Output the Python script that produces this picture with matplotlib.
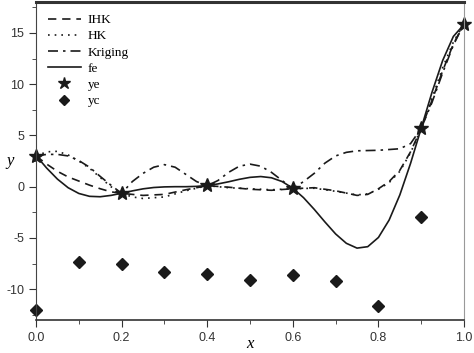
import matplotlib
matplotlib.use('Agg')
import matplotlib.pyplot as plt
from matplotlib.ticker import MultipleLocator, FormatStrFormatter

# exact function fe
x_fe = [0.0, 0.025, 0.05, 0.075, 0.1, 0.125, 0.15, 0.175, 0.2, 0.225,
        0.25, 0.275, 0.3, 0.325, 0.35, 0.375, 0.4, 0.425, 0.45, 0.475,
        0.5, 0.525, 0.55, 0.575, 0.6, 0.625, 0.65, 0.675, 0.7, 0.725,
        0.75, 0.775, 0.8, 0.825, 0.85, 0.875, 0.9, 0.925, 0.95, 0.975, 1.0]
y_fe = [3.03, 1.81, 0.74, -0.10, -0.66, -0.94, -0.98, -0.85, -0.64, -0.41,
        -0.21, -0.08, -0.02, 0.0, 0.0, 0.03, 0.12, 0.27, 0.48, 0.72,
        0.91, 0.99, 0.87, 0.50, -0.15, -1.07, -2.21, -3.44, -4.61, -5.52,
        -5.99, -5.85, -4.95, -3.25, -0.80, 2.27, 5.71, 9.19, 12.30, 14.65, 15.83]

# IHK
x_ihk = [0.0, 0.025, 0.05, 0.075, 0.1, 0.125, 0.15, 0.175, 0.2, 0.25, 0.3, 0.35,
         0.4, 0.45, 0.5, 0.55, 0.6, 0.65, 0.7, 0.75, 0.775, 0.8, 0.825, 0.85,
         0.875, 0.9, 0.925, 0.95, 0.975, 1.0]
y_ihk = [3.0, 2.2, 1.5, 0.95, 0.55, 0.15, -0.2, -0.5, -0.65, -0.85, -0.75, -0.3,
         0.1, -0.05, -0.25, -0.35, -0.2, -0.1, -0.4, -0.85, -0.75, -0.2, 0.5, 1.6,
         3.4, 5.7, 8.4, 11.3, 13.9, 15.9]

# HK
x_hk = [0.0, 0.025, 0.05, 0.075, 0.1, 0.125, 0.15, 0.175, 0.2, 0.225, 0.25, 0.3,
        0.35, 0.4, 0.45, 0.5, 0.55, 0.6, 0.65, 0.7, 0.75, 0.775, 0.8, 0.825,
        0.85, 0.875, 0.9, 0.925, 0.95, 0.975, 1.0]
y_hk = [3.0, 3.4, 3.45, 3.1, 2.5, 1.8, 0.9, 0.0, -0.65, -1.0, -1.15, -1.0,
        -0.4, 0.1, -0.1, -0.2, -0.3, -0.2, -0.15, -0.45, -0.8, -0.7, -0.25, 0.4,
        1.5, 3.3, 5.7, 8.6, 11.6, 14.1, 15.9]

# Kriging
x_kr = [0.0, 0.025, 0.05, 0.075, 0.1, 0.125, 0.15, 0.175, 0.2, 0.225, 0.25,
        0.275, 0.3, 0.325, 0.35, 0.375, 0.4, 0.425, 0.45, 0.475, 0.5, 0.525,
        0.55, 0.575, 0.6, 0.625, 0.65, 0.675, 0.7, 0.725, 0.75, 0.8, 0.85,
        0.875, 0.9, 0.925, 0.95, 0.975, 1.0]
y_kr = [3.0, 3.15, 3.15, 3.0, 2.55, 1.9, 1.0, 0.15, -0.65, 0.5, 1.3,
        1.9, 2.15, 1.9, 1.2, 0.5, 0.1, 0.6, 1.4, 2.0, 2.2, 2.0,
        1.4, 0.6, -0.2, 0.5, 1.3, 2.3, 3.0, 3.35, 3.5, 3.55, 3.7,
        4.2, 5.7, 8.2, 11.1, 13.8, 15.9]

# sample points
x_ye = [0.0, 0.2, 0.4, 0.6, 0.9, 1.0]
y_ye = [3.03, -0.64, 0.12, -0.15, 5.71, 15.83]

x_yc = [0.0, 0.1, 0.2, 0.3, 0.4, 0.5, 0.6, 0.7, 0.8, 0.9]
y_yc = [-12.0, -7.3, -7.5, -8.3, -8.55, -9.1, -8.6, -9.2, -11.6, -3.0]

col = '#1a1a1a'
lw = 1.2

fig = plt.figure(figsize=(4.74, 3.53), dpi=100)
ax = fig.add_axes([0.076, 0.0935, 0.903, 0.9005])

ax.plot(x_ihk, y_ihk, color=col, lw=lw, dashes=(5, 3.5), label='IHK')
ax.plot(x_hk, y_hk, color=col, lw=lw, dashes=(1, 3), label='HK')
ax.plot(x_kr, y_kr, color=col, lw=lw, dashes=(6, 3, 1.5, 3), label='Kriging')
ax.plot(x_fe, y_fe, color=col, lw=lw, label='fe')
ax.plot(x_ye, y_ye, ls='none', marker='*', ms=10, color=col, label='ye', clip_on=False)
ax.plot(x_yc, y_yc, ls='none', marker='D', ms=6, color=col, label='yc', clip_on=False)

ax.set_xlim(0, 1)
ax.set_ylim(-13, 18)
ax.xaxis.set_major_locator(MultipleLocator(0.2))
ax.xaxis.set_minor_locator(MultipleLocator(0.1))
ax.yaxis.set_major_locator(MultipleLocator(5))
ax.yaxis.set_minor_locator(MultipleLocator(2.5))
ax.tick_params(which='both', direction='out', top=False, right=False, color='#333333')
ax.tick_params(which='major', length=5, labelsize=9, labelcolor='#333333')
ax.tick_params(which='minor', length=3)
ax.xaxis.set_major_formatter(FormatStrFormatter('%.1f'))
ax.yaxis.set_major_formatter(FormatStrFormatter('%d'))
for lab in ax.get_xticklabels() + ax.get_yticklabels():
    lab.set_family('Liberation Sans')

ax.spines['top'].set_linewidth(2.2)
ax.spines['top'].set_color('#333333')
ax.spines['bottom'].set_linewidth(1.2)
ax.spines['bottom'].set_color('#333333')
ax.spines['left'].set_color('#444444')
ax.spines['right'].set_color('#999999')

ax.set_xlabel('x', fontsize=12, family='Liberation Serif', style='italic', va='center')
ax.xaxis.set_label_coords(0.5, -0.074)
ax.set_ylabel('y', fontsize=12, family='Liberation Serif', style='italic', rotation=0, va='center')
ax.yaxis.set_label_coords(-0.06, 0.5)

ax.legend(loc='upper left', frameon=False, prop={'family': 'Liberation Serif', 'size': 9.5},
          handlelength=2.5, labelspacing=0.3, borderaxespad=0.5, handletextpad=0.5,
          markerscale=0.9)

fig.savefig('out.png', dpi=100)
